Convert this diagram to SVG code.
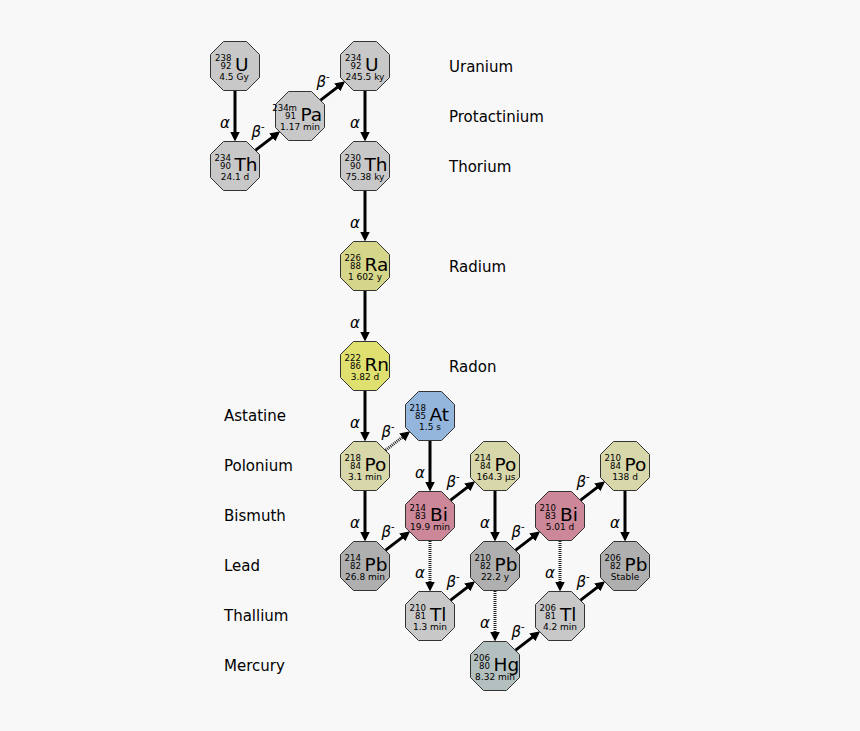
<svg xmlns="http://www.w3.org/2000/svg" xmlns:xlink="http://www.w3.org/1999/xlink" width="860" height="731" viewBox="0 0 860 731">
<style>
text{font-family:"DejaVu Sans","Liberation Sans",sans-serif;fill:#000}
.m{font-size:8.6px;text-anchor:end}
.s{font-size:18.5px}
.h{font-size:9px;text-anchor:middle}
.lbl{font-size:15px}
.a{font-size:15px;font-style:italic}
.b{font-size:15px;font-style:italic}
.sup{font-size:10px;font-style:normal}
.ar{stroke:#000;stroke-width:3;fill:none;marker-end:url(#ah)}
.dt{stroke:#222;stroke-dasharray:1 1}
.oct{stroke:#333;stroke-width:1}
.gray{fill:#c8c8c8}
.lead{fill:#afafaf}
.ra{fill:#d6d68a}
.rn{fill:#e0e070}
.po{fill:#d7d7aa}
.at{fill:#94b5dc}
.bi{fill:#cc8899}
.hg{fill:#b4c0bf}
</style>
<defs>
<polygon id="oct" points="-11.5,-24.5 11.5,-24.5 24.5,-11.5 24.5,11.5 11.5,24.5 -11.5,24.5 -24.5,11.5 -24.5,-11.5"/>
<marker id="ah" viewBox="0 0 10 10" refX="2" refY="5" markerWidth="10" markerHeight="10" markerUnits="userSpaceOnUse" orient="auto">
<path d="M0,0 L10,5 L0,10 z" fill="#000"/>
</marker>
</defs>
<rect width="860" height="731" fill="#f8f8f8"/>

<g id="labels">
<text class="lbl" x="449" y="71.5">Uranium</text>
<text class="lbl" x="449" y="121.5">Protactinium</text>
<text class="lbl" x="449" y="171.5">Thorium</text>
<text class="lbl" x="449" y="271.5">Radium</text>
<text class="lbl" x="449" y="371.5">Radon</text>
<text class="lbl" x="224" y="421">Astatine</text>
<text class="lbl" x="224" y="471">Polonium</text>
<text class="lbl" x="224" y="521">Bismuth</text>
<text class="lbl" x="224" y="571">Lead</text>
<text class="lbl" x="224" y="621">Thallium</text>
<text class="lbl" x="224" y="671">Mercury</text>
</g>

<g id="connectors">
<line class="ar" x1="235" y1="90.5" x2="235" y2="133.5"/>
<line class="ar" x1="365" y1="90.5" x2="365" y2="133.5"/>
<line class="ar" x1="365" y1="190.5" x2="365" y2="233.5"/>
<line class="ar" x1="365" y1="290.5" x2="365" y2="333.5"/>
<line class="ar" x1="365" y1="390.5" x2="365" y2="433.5"/>
<line class="ar" x1="365" y1="490.5" x2="365" y2="533.5"/>
<line class="ar" x1="430" y1="440.5" x2="430" y2="483.5"/>
<line class="ar dt" x1="430" y1="541" x2="430" y2="583.5"/>
<line class="ar" x1="495" y1="490.5" x2="495" y2="533.5"/>
<line class="ar dt" x1="495" y1="591" x2="495" y2="633.5"/>
<line class="ar dt" x1="560" y1="541" x2="560" y2="583.5"/>
<line class="ar" x1="625" y1="490.5" x2="625" y2="533.5"/>

<line class="ar" x1="255.61" y1="150.15" x2="273.84" y2="136.12"/>
<line class="ar" x1="320.61" y1="100.15" x2="338.84" y2="86.12"/>
<line class="ar dt" x1="385.61" y1="450.15" x2="403.84" y2="436.12"/>
<line class="ar" x1="385.61" y1="550.15" x2="403.84" y2="536.12"/>
<line class="ar" x1="450.61" y1="500.15" x2="468.84" y2="486.12"/>
<line class="ar" x1="450.61" y1="600.15" x2="468.84" y2="586.12"/>
<line class="ar" x1="515.61" y1="550.15" x2="533.84" y2="536.12"/>
<line class="ar" x1="515.61" y1="650.15" x2="533.84" y2="636.12"/>
<line class="ar" x1="580.61" y1="500.15" x2="598.84" y2="486.12"/>
<line class="ar" x1="580.61" y1="600.15" x2="598.84" y2="586.12"/>

<text class="a" x="225" y="127.5" text-anchor="middle">α</text>
<text class="a" x="355" y="127.5" text-anchor="middle">α</text>
<text class="a" x="355" y="227.5" text-anchor="middle">α</text>
<text class="a" x="355" y="327.5" text-anchor="middle">α</text>
<text class="a" x="355" y="427.5" text-anchor="middle">α</text>
<text class="a" x="355" y="527.5" text-anchor="middle">α</text>
<text class="a" x="420" y="477.5" text-anchor="middle">α</text>
<text class="a" x="420" y="577.5" text-anchor="middle">α</text>
<text class="a" x="485" y="527.5" text-anchor="middle">α</text>
<text class="a" x="485" y="627.5" text-anchor="middle">α</text>
<text class="a" x="550" y="577.5" text-anchor="middle">α</text>
<text class="a" x="615" y="527.5" text-anchor="middle">α</text>

<text class="b" x="251.5" y="136.5">β<tspan class="sup" dy="-7">-</tspan></text>
<text class="b" x="316.5" y="86.5">β<tspan class="sup" dy="-7">-</tspan></text>
<text class="b" x="381.5" y="436.5">β<tspan class="sup" dy="-7">-</tspan></text>
<text class="b" x="381.5" y="536.5">β<tspan class="sup" dy="-7">-</tspan></text>
<text class="b" x="446.5" y="486.5">β<tspan class="sup" dy="-7">-</tspan></text>
<text class="b" x="446.5" y="586.5">β<tspan class="sup" dy="-7">-</tspan></text>
<text class="b" x="511.5" y="536.5">β<tspan class="sup" dy="-7">-</tspan></text>
<text class="b" x="511.5" y="636.5">β<tspan class="sup" dy="-7">-</tspan></text>
<text class="b" x="576.5" y="486.5">β<tspan class="sup" dy="-7">-</tspan></text>
<text class="b" x="576.5" y="586.5">β<tspan class="sup" dy="-7">-</tspan></text>
</g>

<g id="U238" transform="translate(235,66)">
<use xlink:href="#oct" class="oct gray"/>
<text class="m" x="-3.5" y="-4.8">238</text><text class="m" x="-3.5" y="3.2">92</text>
<text class="s" x="0" y="4.5">U</text><text class="h" x="-1" y="14">4.5 Gy</text>
</g>
<g id="Th234" transform="translate(235,166)">
<use xlink:href="#oct" class="oct gray"/>
<text class="m" x="-4" y="-4.8">234</text><text class="m" x="-4" y="3.2">90</text>
<text class="s" x="-0.5" y="4.5">Th</text><text class="h" x="0" y="14">24.1 d</text>
</g>
<g id="Pa234m" transform="translate(300,116)">
<use xlink:href="#oct" class="oct gray"/>
<text class="m" x="-3" y="-4.8">234m</text><text class="m" x="-4" y="3.2">91</text>
<text class="s" x="0.5" y="4.5">Pa</text><text class="h" x="0" y="14">1.17 min</text>
</g>
<g id="U234" transform="translate(365,66)">
<use xlink:href="#oct" class="oct gray"/>
<text class="m" x="-3.5" y="-4.8">234</text><text class="m" x="-3.5" y="3.2">92</text>
<text class="s" x="0" y="4.5">U</text><text class="h" x="0" y="14">245.5 ky</text>
</g>
<g id="Th230" transform="translate(365,166)">
<use xlink:href="#oct" class="oct gray"/>
<text class="m" x="-4" y="-4.8">230</text><text class="m" x="-4" y="3.2">90</text>
<text class="s" x="-0.5" y="4.5">Th</text><text class="h" x="0" y="14">75.38 ky</text>
</g>
<g id="Ra226" transform="translate(365,266)">
<use xlink:href="#oct" class="oct ra"/>
<text class="m" x="-4" y="-4.8">226</text><text class="m" x="-4" y="3.2">88</text>
<text class="s" x="-0.5" y="4.5">Ra</text><text class="h" x="0" y="14">1 602 y</text>
</g>
<g id="Rn222" transform="translate(365,366)">
<use xlink:href="#oct" class="oct rn"/>
<text class="m" x="-4" y="-4.8">222</text><text class="m" x="-4" y="3.2">86</text>
<text class="s" x="-0.5" y="4.5">Rn</text><text class="h" x="0" y="14">3.82 d</text>
</g>
<g id="Po218" transform="translate(365,466)">
<use xlink:href="#oct" class="oct po"/>
<text class="m" x="-4" y="-4.8">218</text><text class="m" x="-4" y="3.2">84</text>
<text class="s" x="-0.5" y="4.5">Po</text><text class="h" x="0" y="14">3.1 min</text>
</g>
<g id="At218" transform="translate(430,416)">
<use xlink:href="#oct" class="oct at"/>
<text class="m" x="-4" y="-4.8">218</text><text class="m" x="-4" y="3.2">85</text>
<text class="s" x="-0.5" y="4.5">At</text><text class="h" x="0" y="14">1.5 s</text>
</g>
<g id="Pb214" transform="translate(365,566)">
<use xlink:href="#oct" class="oct lead"/>
<text class="m" x="-4" y="-4.8">214</text><text class="m" x="-4" y="3.2">82</text>
<text class="s" x="-0.5" y="4.5">Pb</text><text class="h" x="0" y="14">26.8 min</text>
</g>
<g id="Bi214" transform="translate(430,516)">
<use xlink:href="#oct" class="oct bi"/>
<text class="m" x="-4" y="-4.8">214</text><text class="m" x="-4" y="3.2">83</text>
<text class="s" x="0" y="4.5">Bi</text><text class="h" x="0" y="14">19.9 min</text>
</g>
<g id="Po214" transform="translate(495,466)">
<use xlink:href="#oct" class="oct po"/>
<text class="m" x="-4" y="-4.8">214</text><text class="m" x="-4" y="3.2">84</text>
<text class="s" x="-0.5" y="4.5">Po</text><text class="h" x="1" y="14">164.3 µs</text>
</g>
<g id="Tl210" transform="translate(430,616)">
<use xlink:href="#oct" class="oct gray"/>
<text class="m" x="-4" y="-4.8">210</text><text class="m" x="-4" y="3.2">81</text>
<text class="s" x="0" y="4.5">Tl</text><text class="h" x="0" y="14">1.3 min</text>
</g>
<g id="Pb210" transform="translate(495,566)">
<use xlink:href="#oct" class="oct lead"/>
<text class="m" x="-4" y="-4.8">210</text><text class="m" x="-4" y="3.2">82</text>
<text class="s" x="-0.5" y="4.5">Pb</text><text class="h" x="0" y="14">22.2 y</text>
</g>
<g id="Hg206" transform="translate(495,666)">
<use xlink:href="#oct" class="oct hg"/>
<text class="m" x="-5" y="-4.8">206</text><text class="m" x="-5" y="3.2">80</text>
<text class="s" x="-1.5" y="4.5">Hg</text><text class="h" x="0" y="14">8.32 min</text>
</g>
<g id="Bi210" transform="translate(560,516)">
<use xlink:href="#oct" class="oct bi"/>
<text class="m" x="-4" y="-4.8">210</text><text class="m" x="-4" y="3.2">83</text>
<text class="s" x="0" y="4.5">Bi</text><text class="h" x="0" y="14">5.01 d</text>
</g>
<g id="Tl206" transform="translate(560,616)">
<use xlink:href="#oct" class="oct gray"/>
<text class="m" x="-4" y="-4.8">206</text><text class="m" x="-4" y="3.2">81</text>
<text class="s" x="0" y="4.5">Tl</text><text class="h" x="0" y="14">4.2 min</text>
</g>
<g id="Po210" transform="translate(625,466)">
<use xlink:href="#oct" class="oct po"/>
<text class="m" x="-4" y="-4.8">210</text><text class="m" x="-4" y="3.2">84</text>
<text class="s" x="-0.5" y="4.5">Po</text><text class="h" x="0" y="14">138 d</text>
</g>
<g id="Pb206" transform="translate(625,566)">
<use xlink:href="#oct" class="oct lead"/>
<text class="m" x="-4" y="-4.8">206</text><text class="m" x="-4" y="3.2">82</text>
<text class="s" x="-0.5" y="4.5">Pb</text><text class="h" x="0" y="14">Stable</text>
</g>
</svg>
